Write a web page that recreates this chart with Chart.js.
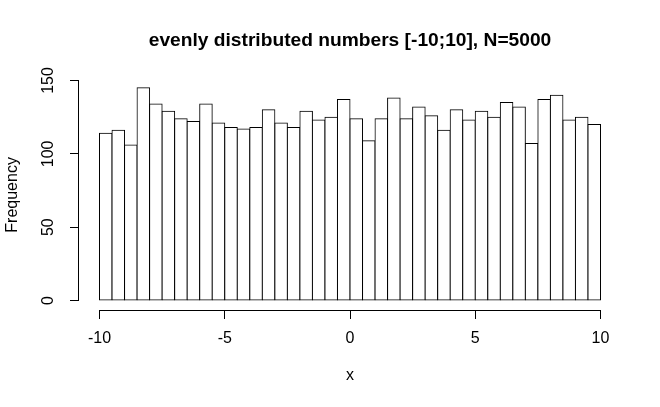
<!DOCTYPE html>
<html><head><meta charset="utf-8">
<script src="https://cdn.jsdelivr.net/npm/chart.js@4.4.1/dist/chart.umd.min.js"></script>
<style>html,body{margin:0;padding:0;background:#fff}</style>
</head><body>
<canvas id="c" width="660" height="407"></canvas>
<script>
// ---- data ----
const binMids = [-9.75,-9.25,-8.75,-8.25,-7.75,-7.25,-6.75,-6.25,-5.75,-5.25,
                 -4.75,-4.25,-3.75,-3.25,-2.75,-2.25,-1.75,-1.25,-0.75,-0.25,
                  0.25, 0.75, 1.25, 1.75, 2.25, 2.75, 3.25, 3.75, 4.25, 4.75,
                  5.25, 5.75, 6.25, 6.75, 7.25, 7.75, 8.25, 8.75, 9.25, 9.75];
const counts  = [114,116,106,145,134,129,124,122,134,121,
                 118,117,118,130,121,118,129,123,125,137,
                 124,109,124,138,124,132,126,116,130,123,
                 129,125,135,132,107,137,140,123,125,120];
const xTicks = [-10,-5,0,5,10];
const yTicks = [0,50,100,150];
const titleText = 'evenly distributed numbers [-10;10], N=5000';
const xTitle = 'x';
const yTitle = 'Frequency';

const FONT = '"Liberation Sans", Arial, Helvetica, sans-serif';

// R-style axis lines spanning only first..last tick
const rAxes = {
  id: 'rAxes',
  afterDraw(chart) {
    const {ctx, scales: {x, y}} = chart;
    ctx.save();
    ctx.strokeStyle = '#000';
    ctx.lineWidth = 1;
    ctx.lineCap = 'square';
    const ay = Math.floor(x.top) + 0.5;
    const x0 = Math.floor(x.getPixelForValue(xTicks[0])) + 0.5;
    const x1 = Math.floor(x.getPixelForValue(xTicks[xTicks.length - 1])) + 0.5;
    ctx.beginPath(); ctx.moveTo(x0, ay); ctx.lineTo(x1, ay); ctx.stroke();
    const ax = Math.floor(y.right) + 0.5;
    const y0 = Math.floor(y.getPixelForValue(yTicks[0])) + 0.5;
    const y1 = Math.floor(y.getPixelForValue(yTicks[yTicks.length - 1])) + 0.5;
    ctx.beginPath(); ctx.moveTo(ax, y0); ctx.lineTo(ax, y1); ctx.stroke();
    ctx.restore();
  }
};

new Chart(document.getElementById('c'), {
  type: 'bar',
  data: {
    datasets: [{
      data: binMids.map((m, i) => ({x: m, y: counts[i]})),
      backgroundColor: '#ffffff',
      borderColor: '#000000',
      borderWidth: 1,
      borderSkipped: false,
      inflateAmount: 0.5,
      barPercentage: 1,
      categoryPercentage: 1,
      grouped: false
    }]
  },
  options: {
    responsive: false,
    animation: false,
    events: [],
    layout: {padding: {left: 0, right: 38.5, top: 0, bottom: 0}},
    plugins: {
      legend: {display: false},
      tooltip: {enabled: false},
      title: {
        display: true,
        text: titleText,
        fullSize: false,
        color: '#000',
        font: {family: FONT, size: 19.2, weight: 'bold', lineHeight: 1.2},
        padding: {top: 28.8, bottom: 27.46}
      }
    },
    scales: {
      x: {
        type: 'linear',
        position: 'bottom',
        min: -10.838, max: 10.838,
        offset: false,
        afterBuildTicks: s => { s.ticks = xTicks.map(v => ({value: v})); },
        afterFit: s => { s.height = 96.5; },
        grid: {display: true, offset: false, drawOnChartArea: false, drawTicks: true, tickLength: 8.5, color: '#000', lineWidth: 1},
        border: {display: false},
        ticks: {
          color: '#000', padding: 10.4, maxRotation: 0, autoSkip: false,
          font: {family: FONT, size: 16, lineHeight: 1.2},
          callback: v => String(v)
        },
        title: {
          display: true, text: xTitle, color: '#000',
          font: {family: FONT, size: 16, lineHeight: 1.2},
          padding: {top: 0, bottom: 22.2}
        }
      },
      y: {
        type: 'linear',
        position: 'left',
        min: -6.818, max: 150.82,
        afterBuildTicks: s => { s.ticks = yTicks.map(v => ({value: v})); },
        afterFit: s => { s.width = 78.5; },
        grid: {display: true, offset: false, drawOnChartArea: false, drawTicks: true, tickLength: 8.5, color: '#000', lineWidth: 1},
        border: {display: false},
        ticks: {
          color: '#000', padding: 8.15, minRotation: 90, maxRotation: 90, crossAlign: 'center', autoSkip: false,
          font: {family: FONT, size: 16, lineHeight: 1.2},
          callback: v => String(v)
        },
        title: {
          display: true, text: yTitle, color: '#000',
          font: {family: FONT, size: 16, lineHeight: 1.2},
          padding: {top: 2.9, bottom: 0}
        }
      }
    }
  },
  plugins: [rAxes]
});
</script>
</body></html>
